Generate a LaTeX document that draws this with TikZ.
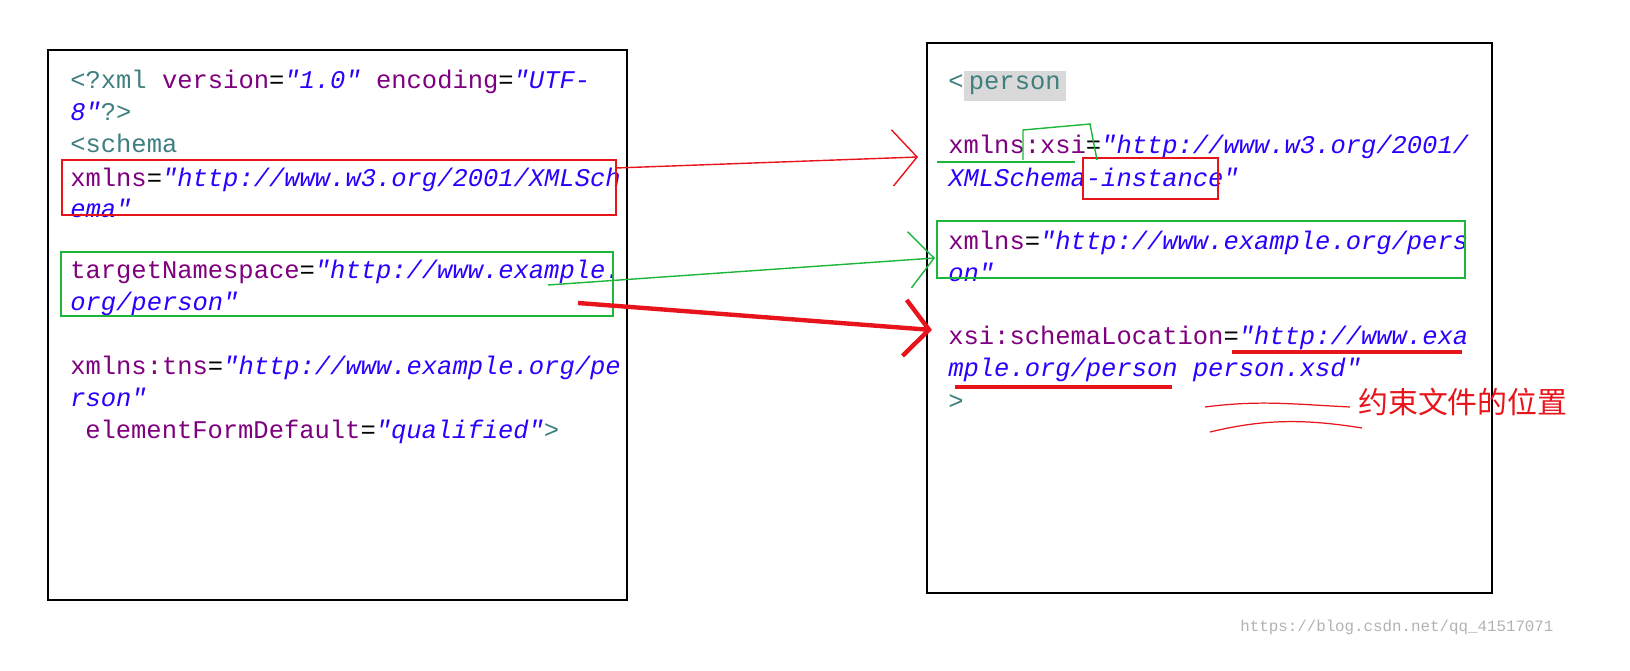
\documentclass[tikz,border=0pt]{standalone}
\usepackage{fontspec}
\setmonofont{Liberation Mono}
\newfontfamily\cjk{Noto Sans CJK SC}
\usetikzlibrary{arrows.meta}
\definecolor{tagc}{HTML}{3F7F7F}
\definecolor{attc}{HTML}{7F007F}
\definecolor{valc}{HTML}{2A00FF}
\definecolor{markred}{HTML}{E8141B}
\definecolor{markgreen}{HTML}{1DB53A}
\newcommand{\tg}[1]{\textcolor{tagc}{#1}}
\newcommand{\at}[1]{\textcolor{attc}{#1}}
\newcommand{\vl}[1]{\textcolor{valc}{\itshape #1}}
\tikzset{
  code/.style={anchor=base west, inner sep=0pt, font=\ttfamily\fontsize{14.5}{16}\selectfont},
  panel/.style={draw, line width=1pt},
  redbox/.style={draw=markred, line width=1pt},
  greenbox/.style={draw=markgreen, line width=0.8pt},
  pointer/.style={-{Straight Barb[length=14pt,width=32pt]}},
}
\begin{document}
\begin{tikzpicture}[x=0.02cm, y=-0.02cm]
  \useasboundingbox (0,0) rectangle (1630,671);
  % panels
  \draw[panel] (48,50) rectangle (627,600);
  \draw[panel] (927,43) rectangle (1492,593);

  % schema file
  \node[code] (l1) at (70,89) {\tg{<?xml} \at{version}=\vl{"1.0"} \at{encoding}=\vl{"UTF-}};
  \node[code] (l2) at (70,121) {\vl{8"}\tg{?>}};
  \node[code] (l3) at (70,153) {\tg{<schema}};
  \node[code] (l4) at (70,187) {\at{xmlns}=\vl{"http://www.w3.org/2001/XMLSch}};
  \node[code] (l5) at (70,218) {\vl{ema"}};
  \node[code] (l6) at (70,279) {\at{targetNamespace}=\vl{"http://www.example.}};
  \node[code] (l7) at (70,311) {\vl{org/person"}};
  \node[code] (l8) at (70,375) {\at{xmlns:tns}=\vl{"http://www.example.org/pe}};
  \node[code] (l9) at (70,407) {\vl{rson"}};
  \node[code] (l10) at (85,439) {\at{elementFormDefault}=\vl{"qualified"}\tg{>}};

  % instance file
  \node[code] (r1) at (948,90) {\tg{<}\colorbox{black!15}{\tg{person}}};
  \node[code] (r2) at (948,154) {\at{xmlns:xsi}=\vl{"http://www.w3.org/2001/}};
  \node[code] (r3) at (948,187) {\vl{XMLSchema-instance"}};
  \node[code] (r4) at (948,250) {\at{xmlns}=\vl{"http://www.example.org/pers}};
  \node[code] (r5) at (948,282) {\vl{on"}};
  \node[code] (r6) at (948,345) {\at{xsi:schemaLocation}=\vl{"http://www.exa}};
  \node[code] (r7) at (948,377) {\vl{mple.org/person person.xsd"}};
  \node[code] (r8) at (948,410) {\tg{>}};
  \node[anchor=west, inner sep=0pt, text=markred, font=\cjk\fontsize{17}{19}\selectfont] (note) at (1358,402) {约束文件的位置};

  % marks
  \draw[redbox] (62,160) rectangle (616,215);
  \draw[redbox] (1083,158) rectangle (1218,199);
  \draw[greenbox] (61,252) rectangle (613,316);
  \draw[greenbox] (937,221) rectangle (1465,278);
  \draw[markgreen, line width=0.8pt] (1023,160) -- (1023,130) -- (1090,124) -- (1097,160);
  \draw[markgreen, line width=0.8pt] (937,162) -- (1075,162);
  \draw[markred, line width=2pt] (1232,352) -- (1462,352);
  \draw[markred, line width=2pt] (955,387) -- (1172,387);
  \draw[markred, line width=0.7pt] (1205,407) .. controls (1260,400) and (1290,404) .. (1350,407);
  \draw[markred, line width=0.7pt] (1210,432) .. controls (1260,420) and (1300,418) .. (1362,428);

  % arrows
  \coordinate (a1) at (616,168);
  \coordinate (b1) at (918,157);
  \coordinate (a2) at (548,285);
  \coordinate (b2) at (935,258);
  \coordinate (a3) at (578,303);
  \coordinate (b3) at (932,330);
  \draw[markred, line width=0.8pt, pointer] (a1) -- (b1);
  \draw[markgreen, line width=0.8pt, pointer] (a2) -- (b2);
  \draw[markred, line width=2.5pt, pointer] (a3) -- (b3);

  \node[anchor=west, inner sep=0pt, text=black!30, font=\ttfamily\fontsize{9}{11}\selectfont] (mark) at (1240,627) {https://blog.csdn.net/qq\_41517071};
\end{tikzpicture}
\end{document}
